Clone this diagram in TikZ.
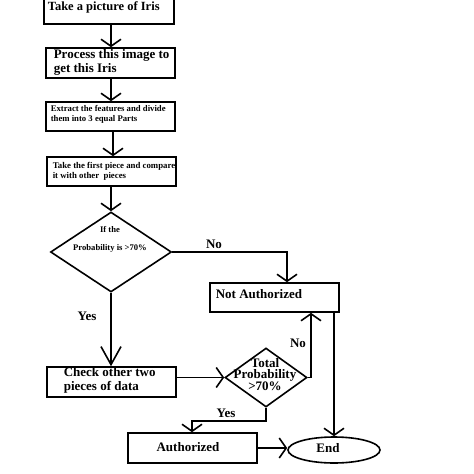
\documentclass[tikz,border=0pt]{standalone}
\usepackage{fontspec}
\setmainfont{Liberation Serif}
\usetikzlibrary{arrows.meta,shapes.geometric}
\begin{document}
\begin{tikzpicture}[x=1pt,y=-1pt,line width=1.6pt,
  box/.style={draw, rectangle, inner sep=0pt},
  dia/.style={draw, diamond, inner sep=0pt},
  txt/.style={font=\bfseries, align=left, inner sep=0pt, anchor=west},
  ctxt/.style={font=\bfseries, align=center, inner sep=0pt},
  big/.style={font=\bfseries\fontsize{13}{14}\selectfont},
  arr/.style={-{Straight Barb[length=7pt,width=20pt]}},
  arrbig/.style={-{Straight Barb[length=18pt,width=20pt]}}]
\useasboundingbox (0,0) rectangle (474,474);
\fill[white] (0,0) rectangle (474,474);
% boxes
\node[box, minimum width=130pt, minimum height=28pt] (b1) at (109,10) {};
\node[box, minimum width=129pt, minimum height=30pt] (b2) at (110.5,63) {};
\node[box, minimum width=129pt, minimum height=29pt] (b3) at (110.5,116.5) {};
\node[box, minimum width=129pt, minimum height=29pt] (b4) at (111.5,171.5) {};
\node[dia, minimum width=121pt, minimum height=80pt] (d1) at (111,252) {};
\node[box, minimum width=129pt, minimum height=30pt] (chk) at (111.5,382) {};
\node[box, minimum width=129pt, minimum height=29pt] (na) at (274.5,297.5) {};
\node[dia, minimum width=82pt, minimum height=59pt] (d2) at (266,377.5) {};
\node[box, minimum width=129pt, minimum height=30pt] (au) at (192.5,448) {};
\node[draw, ellipse, inner sep=0pt, minimum width=92pt, minimum height=26pt] (end) at (334,450) {};
% texts
\node[txt, font=\bfseries\fontsize{12.5}{14}\selectfont] (t1) at (47,7) {Take a picture of Iris};
\node[txt, big] (t2) at (53,62) {Process this image to\\get this Iris};
\node[txt, font=\bfseries\fontsize{8.7}{10}\selectfont] (t3) at (50,114) {Extract the features and divide\\them into 3 equal Parts};
\node[txt, font=\bfseries\fontsize{8.8}{9.5}\selectfont] (t4) at (52,171.5) {Take the first piece and compare\\it with other~ pieces};
\node[ctxt, font=\bfseries\fontsize{8.6}{18}\selectfont] (t5) at (110,239) {If the\\Probability is >70\%};
\node[txt, big] (t6) at (63,380) {Check other two\\pieces of data};
\node[txt, big] (t7) at (215,294) {Not Authorized};
\node[ctxt, font=\bfseries\fontsize{13}{11.5}\selectfont] (t8) at (265,374.5) {Total\\Probability\\>70\%};
\node[ctxt, big] (t9) at (188,447) {Authorized};
\node[ctxt, big] (t10) at (328,448) {End};
% labels
\node[ctxt, big] (no1) at (214,244) {No};
\node[ctxt, big] (no2) at (298,343) {No};
\node[ctxt, big] (yes1) at (87,316) {Yes};
\node[ctxt, big] (yes2) at (226,413) {Yes};
% connectors
\coordinate (c1) at (287,252);
\coordinate (c2) at (311,377.5);
\coordinate (c3) at (192,421);
\draw[arr] (b1.south -| 111,0) -- (b2.north -| 111,0);
\draw[arr] (b2.south -| 111,0) -- (b3.north -| 111,0);
\draw[arr] (b3.south -| 113,0) -- (b4.north -| 113,0);
\draw[arr] (b4.south -| 111,0) -- (d1.north);
\draw[arrbig] (d1.south) -- (d1.south |- chk.north);
\draw[arr] (d1.east) -- (c1) -- (c1 |- na.north);
\draw[arr] (chk.east |- d2.west) -- (d2.west);
\draw[arr] (d2.east) -- (c2) -- (c2 |- na.south);
\draw[arr] (d2.south) -- (d2.south |- c3) -- (c3) -- (c3 |- au.north);
\draw[arr] (au.east) -- (au.east -| end.west);
\draw[arr] (na.south -| end.north) -- (end.north);
\end{tikzpicture}
\end{document}
